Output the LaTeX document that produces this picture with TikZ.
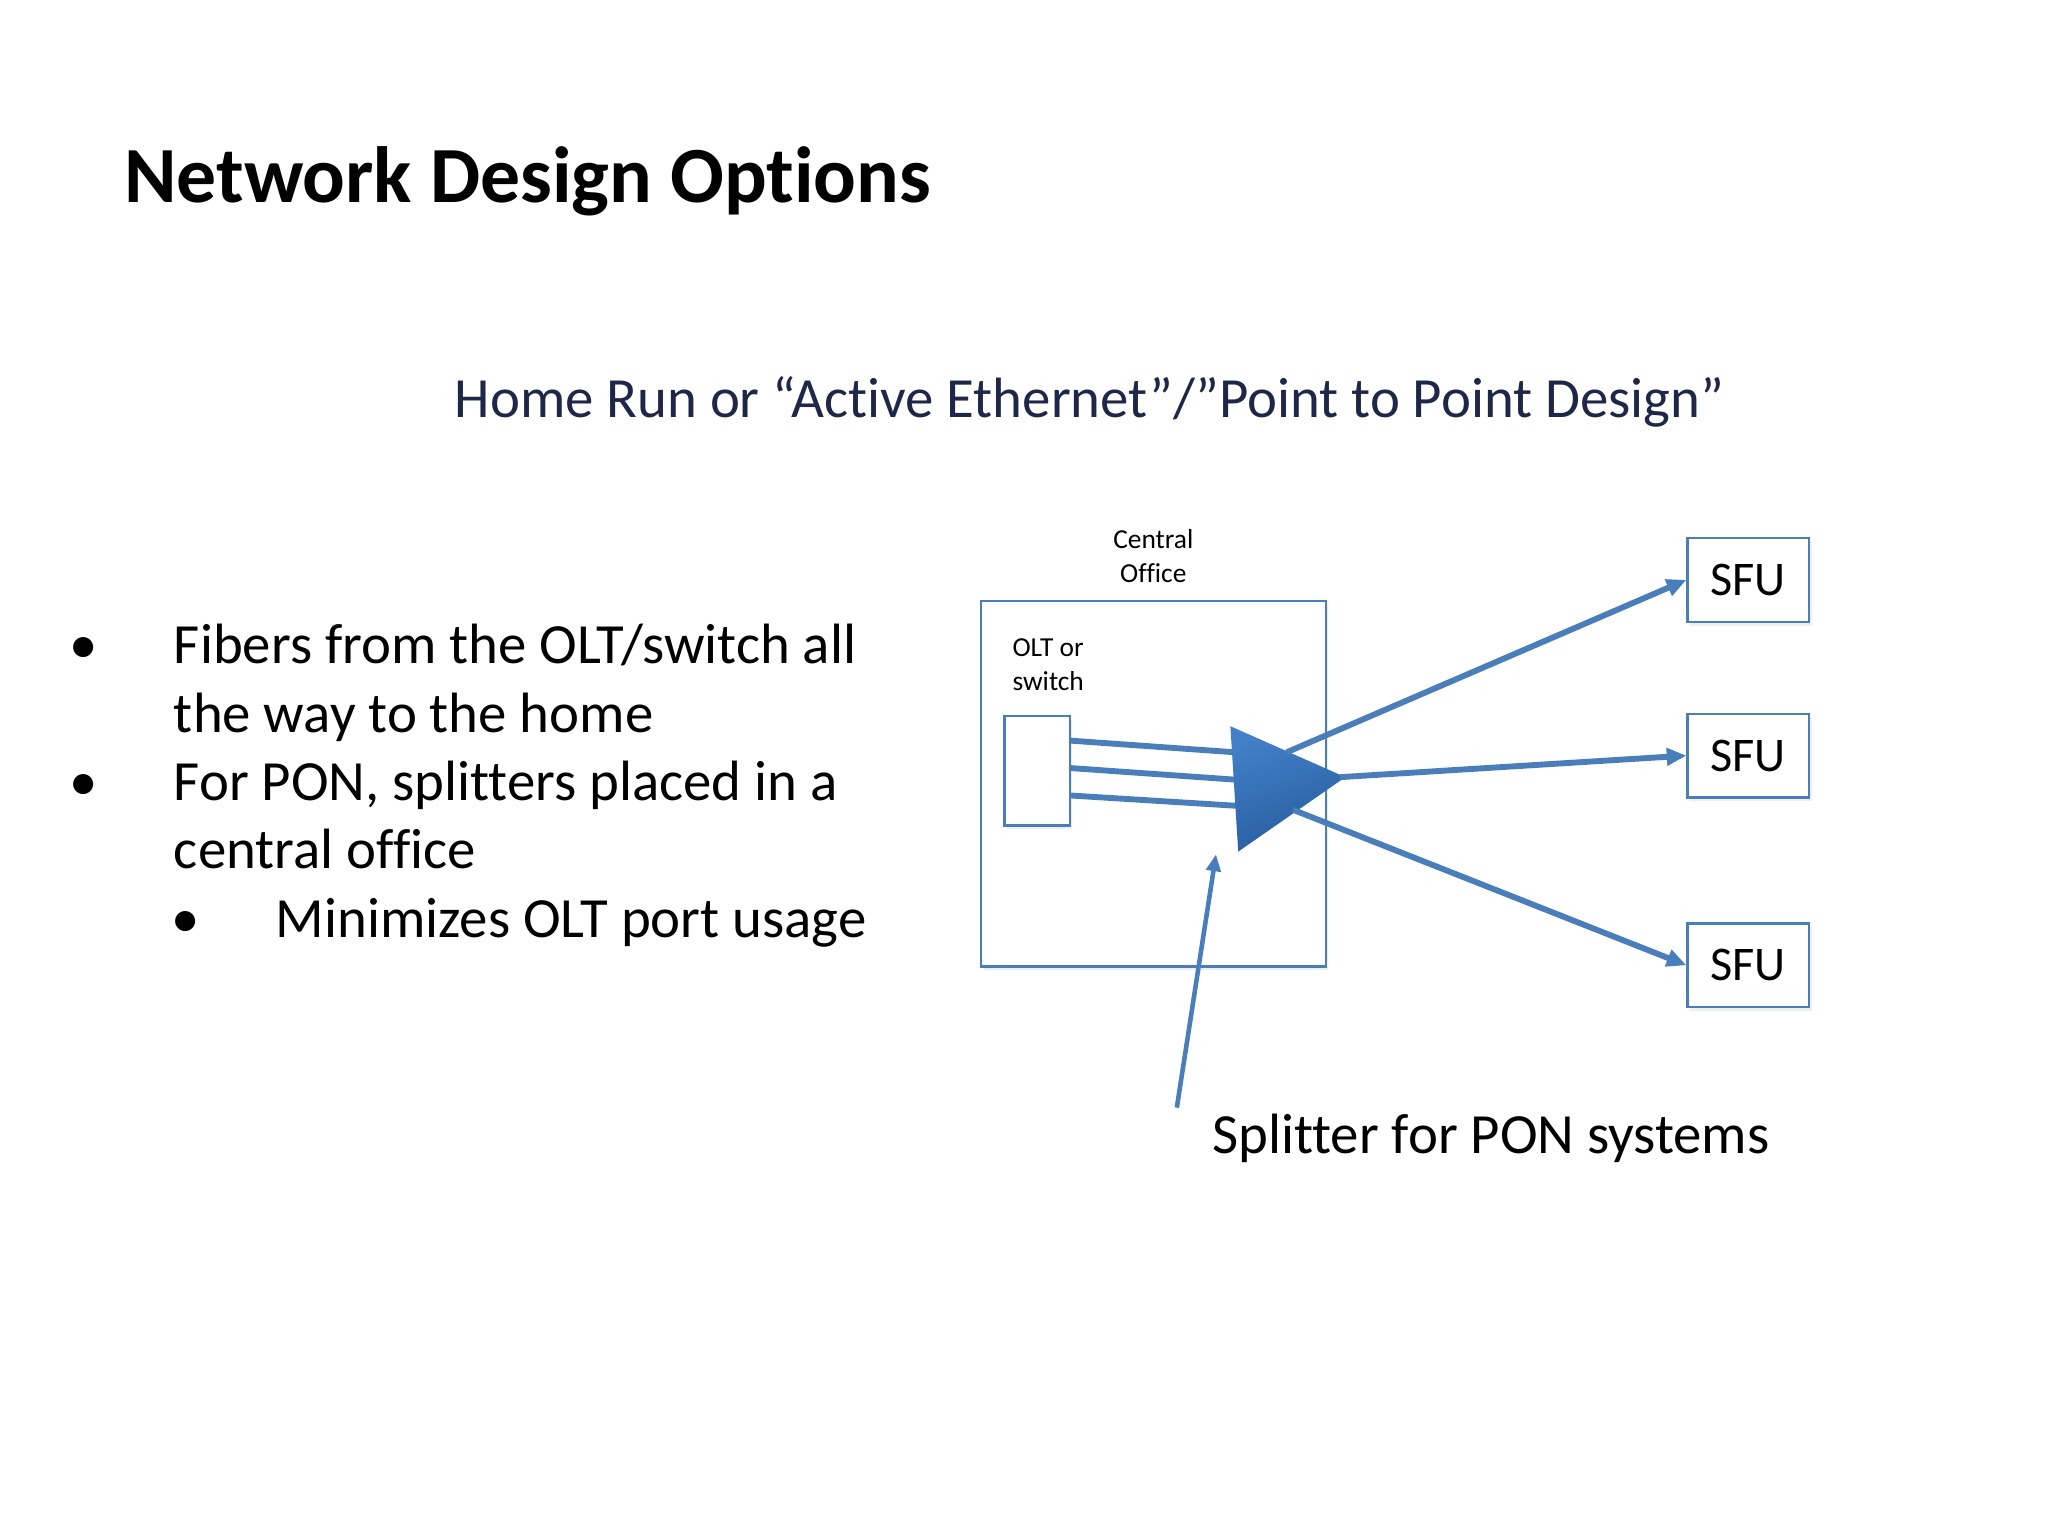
\documentclass[tikz,border=0pt]{standalone}
\usepackage{fontspec}
\setmainfont{Carlito}[Ligatures=NoCommon]
\usetikzlibrary{arrows.meta,shadows}
\definecolor{acc}{RGB}{74,126,187}
\definecolor{navy}{RGB}{31,39,72}
\definecolor{triL}{RGB}{66,128,200}
\definecolor{triD}{RGB}{40,92,158}
\begin{document}
\begin{tikzpicture}[x=1pt,y=-1pt,
  txt/.style={anchor=base west, inner sep=0pt, font=\fontsize{43.5}{52}\selectfont},
  small/.style={inner sep=0pt, font=\fontsize{21}{26}\selectfont},
  box/.style={draw=acc, line width=1.8pt, fill=white, inner sep=0pt,
    drop shadow={opacity=0.12, shadow xshift=2pt, shadow yshift=-3pt}},
  sfu/.style={box, minimum width=93pt, minimum height=64pt, font=\fontsize{37}{44}\selectfont},
  fib/.style={draw=acc, line width=4.5pt},
  arr/.style={fib, -{Triangle[length=15pt,width=13pt]}}]
\useasboundingbox (0,0) rectangle (1568,1176);
\fill[white] (0,0) rectangle (1568,1176);

% title and subtitle
\node[txt, font=\fontsize{61}{70}\selectfont\bfseries] (title) at (95,155) {Network Design Options};
\node[txt, text=navy] (sub) at (348,320) {Home Run or “Active Ethernet”/”Point to Point Design”};

% bullets
\node[txt] (b1) at (53,508) {•};
\node[txt] (l1) at (133,508) {Fibers from the OLT/switch all};
\node[txt] (l2) at (133,560.5) {the way to the home};
\node[txt] (b2) at (53,613) {•};
\node[txt] (l3) at (133,613) {For PON, splitters placed in a};
\node[txt] (l4) at (133,665) {central office};
\node[txt] (b3) at (131,717.5) {•};
\node[txt] (l5) at (211,717.5) {Minimizes OLT port usage};

% central office
\node[box, minimum width=264pt, minimum height=280pt] (office) at (883,600) {};
\node[small, anchor=base] (co1) at (883,420) {Central};
\node[small, anchor=base] (co2) at (883,446) {Office};
\node[small, anchor=base west] (olt1) at (775,503) {OLT or};
\node[small, anchor=base west] (olt2) at (775,529) {switch};
\node[box, minimum width=50pt, minimum height=84pt] (olt) at (794,590) {};

% fibres into splitter
\coordinate (f1s) at (819,567); \coordinate (f1e) at (946,576);
\coordinate (f2s) at (819,588); \coordinate (f2e) at (947,597);
\coordinate (f3s) at (819,609); \coordinate (f3e) at (948,617);
\draw[fib] (f1s) -- (f1e);
\draw[fib] (f2s) -- (f2e);
\draw[fib] (f3s) -- (f3e);

% splitter triangle
\coordinate (tA) at (942,556);
\coordinate (tB) at (1030,595);
\coordinate (tC) at (948,652);
\shade[top color=triL, bottom color=triD, shading angle=20] (tA) -- (tB) -- (tC) -- cycle;

% SFUs
\node[sfu] (s1) at (1338.5,444) {SFU};
\node[sfu] (s2) at (1338.5,578.5) {SFU};
\node[sfu] (s3) at (1338.5,739) {SFU};

\coordinate (o1) at (985,576);
\coordinate (o2) at (1026,595);
\coordinate (o3) at (990,620);
\draw[arr] (o1) -- (s1.west);
\draw[arr] (o2) -- (s2.west);
\draw[arr] (o3) -- (s3.west);

% pointer to splitter
\coordinate (p0) at (901,848);
\coordinate (p1) at (931,654);
\draw[draw=acc, line width=3.5pt, -{Triangle[length=13pt,width=11pt]}] (p0) -- (p1);
\node[txt] (split) at (928,883) {Splitter for PON systems};
\end{tikzpicture}
\end{document}
